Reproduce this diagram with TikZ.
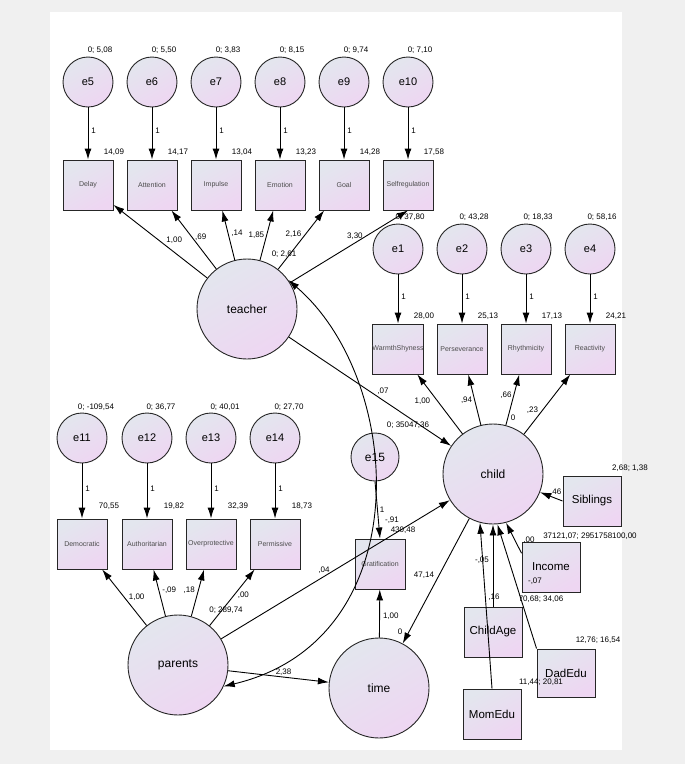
\documentclass[tikz,border=0pt]{standalone}
\usepackage{fontspec}
\setmainfont{Liberation Sans}
\usetikzlibrary{arrows.meta}
\definecolor{ca}{HTML}{E3E6EE}
\definecolor{cb}{HTML}{EED6F2}
\begin{document}
\begin{tikzpicture}[x=1pt,y=-1pt,
 lat/.style={circle,draw=black!85,line width=0.9pt,minimum size=#1,inner sep=0pt,top color=ca,bottom color=cb,shading angle=30,font=\fontsize{12}{12}\selectfont},
 err/.style={lat=50pt,font=\fontsize{11}{11}\selectfont},
 obs/.style={rectangle,draw=black!85,line width=0.9pt,minimum width=#1,minimum height=50pt,inner sep=0pt,top color=ca,bottom color=cb,shading angle=30,font=\fontsize{7}{7}\selectfont,text=black!70},
 obsb/.style={obs=#1,font=\fontsize{11.5}{11.5}\selectfont,text=black},
 ar/.style={-{Latex[length=11pt,width=7pt]},line width=0.9pt},
 dar/.style={{Latex[length=11pt,width=7pt]}-{Latex[length=11pt,width=7pt]},line width=0.9pt},
 lb/.style={font=\fontsize{8}{8}\selectfont,inner sep=1pt}]
\useasboundingbox (0,0) rectangle (685,764);
\fill[black!6] (0,0) rectangle (685,764);
\fill[white] (50,12) rectangle (622,750);
% teacher block
\foreach \n/\x/\v/\lab/\w in {5/88/{5,08}/Delay/{14,09},6/152/{5,50}/Attention/{14,17},7/216/{3,83}/Impulse/{13,04},8/280/{8,15}/Emotion/{13,23},9/344/{9,74}/Goal/{14,28},10/408/{7,10}/Selfregulation/{17,58}}{
 \node[err] (e\n) at (\x,82) {e\n};
 \node[lb] at (\x+12,50) {0; \v};
 \node[obs=50pt] (t\n) at (\x,185) {\lab};
 \node[lb] at (\x+26,152) {\w};
 \draw[ar] (e\n) -- node[lb,right=2pt,pos=0.45]{1} (t\n);
}
\node[lat=100pt] (teacher) at (247,309) {teacher};
\node[lb] at (284,254) {0; 2,61};
\draw[ar] (teacher) -- node[lb,pos=0.45,above right=0pt]{1,00} (t5);
\draw[ar] (teacher) -- node[lb,pos=0.55,right=2pt]{,69} (t6);
\draw[ar] (teacher) -- node[lb,pos=0.55,right=2pt]{,14} (t7);
\draw[ar] (teacher) -- node[lb,pos=0.5,left=1pt]{1,85} (t8);
\draw[ar] (teacher) -- node[lb,pos=0.6,left=3pt]{2,16} (t9);
\draw[ar] (teacher) -- node[lb,pos=0.55,above=2pt]{3,30} (t10.south);
% child block
\foreach \n/\x/\v/\lab/\w in {1/398/{37,80}/WarmthShyness/{28,00},2/462/{43,28}/Perseverance/{25,13},3/526/{18,33}/Rhythmicity/{17,13},4/590/{58,16}/Reactivity/{24,21}}{
 \node[err] (e\n) at (\x,249) {e\n};
 \node[lb] at (\x+12,217) {0; \v};
 \node[obs=50pt] (c\n) at (\x,349) {\lab};
 \node[lb] at (\x+26,316) {\w};
 \draw[ar] (e\n) -- node[lb,right=2pt,pos=0.45]{1} (c\n);
}
\node[lat=100pt] (child) at (493,474) {child};
\node[lb] at (408,425) {0; 35047,36};
\node[lb] at (513,418) {0};
\draw[ar] (child) -- node[lb,pos=0.55,left=6pt]{1,00} (c1);
\draw[ar] (child) -- node[lb,pos=0.5,left=1pt]{,94} (c2);
\draw[ar] (child) -- node[lb,pos=0.6,left=1pt]{,66} (c3);
\draw[ar] (child) -- node[lb,pos=0.4,left=3pt]{,23} (c4);
\draw[ar] (teacher) -- (child);
% parents block
\foreach \n/\x/\v/\lab/\w in {11/82/{-109,54}/Democratic/{70,55},12/147/{36,77}/Authoritarian/{19,82},13/211/{40,01}/Overprotective/{32,39},14/275/{27,70}/Permissive/{18,73}}{
 \node[err] (e\n) at (\x,438) {e\n};
 \node[lb] at (\x+14,407) {0; \v};
 \node[obs=50pt] (p\n) at (\x,544) {\lab};
 \node[lb] at (\x+27,506) {\w};
 \draw[ar] (e\n) -- node[lb,right=2pt,pos=0.45]{1} (p\n);
}
\node[lat=100pt] (parents) at (178,665) {parents};
\node[lb] at (226,610) {0; 289,74};
\draw[ar] (parents) -- node[lb,pos=0.5,right=3pt]{1,00} (p11);
\draw[ar] (parents) -- node[lb,pos=0.55,right=2pt]{-,09} (p12);
\draw[ar] (parents) -- node[lb,pos=0.55,left=2pt]{,18} (p13);
\draw[ar] (parents) -- node[lb,pos=0.55,right=2pt]{,00} (p14);
% time / gratification
\node[lat=100pt] (time) at (379,688) {time};
\node[lb] at (400,632) {0};
\node[lat=48pt] (e15) at (375,457) {e15};
\node[obs=50pt] (grat) at (380,564) {Gratification};
\node[lb] at (403,530) {430,48};
\node[lb] at (424,575) {47,14};
\draw[ar] (e15.south) -- node[lb,pos=0.5,right=1pt]{1} (grat.north);
\draw[ar] (time) -- node[lb,pos=0.45,right=2pt]{1,00} (grat);
\draw[ar] (parents) -- node[lb,pos=0.45,above=1pt]{,04} (child);
\draw[ar] (parents) -- node[lb,pos=0.55,above=0pt]{2,38} (time);
\draw[ar] (child) -- (time);
\draw[dar] (parents.-25) .. controls (420,640) and (405,380) .. (teacher.35);
\node[lb] at (383,391) {,07};
\node[lb] at (392,520) {-,91};
% exogenous
\node[obsb=58pt] (sib) at (592,501) {Siblings};
\node[lb] at (630,468) {2,68; 1,38};
\node[obsb=58pt] (inc) at (551,567) {Income};
\node[lb] at (590,536) {37121,07; 2951758100,00};
\node[obsb=58pt] (age) at (493,632) {ChildAge};
\node[lb] at (541,599) {70,68; 34,06};
\node[obsb=58pt,minimum height=48pt] (dad) at (566,673) {DadEdu};
\node[lb] at (598,640) {12,76; 16,54};
\node[obsb=58pt] (mom) at (492,714) {MomEdu};
\node[lb] at (541,682) {11,44; 20,81};
\draw[ar] (sib.west) -- node[lb,pos=0.3,above=1pt]{,46} (child);
\draw[ar] (inc.155) -- (child.-75);
\draw[ar] (age.north) -- (child.-90);
\draw[ar] (dad.north west) -- (child.-85);
\draw[ar] (mom.north) -- (child.-105);
\node[lb] at (529,540) {,00};
\node[lb] at (535,581) {-,07};
\node[lb] at (494,597) {,16};
\node[lb] at (482,560) {-,05};
\end{tikzpicture}
\end{document}
